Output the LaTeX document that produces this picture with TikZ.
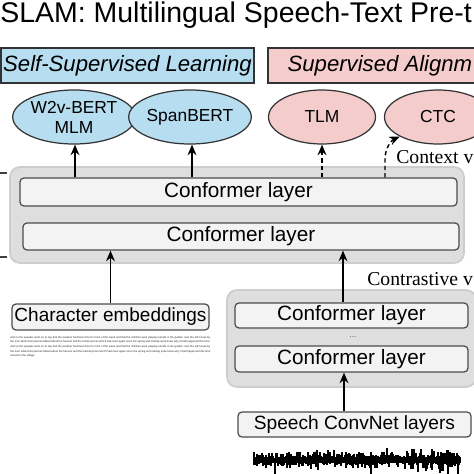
\documentclass[tikz,border=0pt]{standalone}
\usepackage{fontspec}
\setmainfont{Liberation Serif}
\setsansfont{Liberation Sans}
\usepackage{xcolor}
\usetikzlibrary{arrows.meta,positioning,shapes.geometric}

\definecolor{sslblue}{RGB}{182,221,240}
\definecolor{suppink}{RGB}{244,204,204}
\definecolor{trayfill}{RGB}{222,222,222}
\definecolor{trayedge}{RGB}{205,205,205}
\definecolor{layerfill}{RGB}{243,243,243}

\tikzset{
  catbox/.style={draw=black!80, line width=0.7pt, minimum height=35*\u, inner sep=0pt,
    font=\sffamily\itshape\fontsize{12.6}{14}\selectfont},
  headnode/.style={ellipse, draw=black!80, line width=0.7pt, minimum height=54*\u,
    inner sep=0pt, align=center, font=\sffamily\fontsize{9.9}{11.4}\selectfont},
  tray/.style={rounded corners=2mm, fill=trayfill, draw=trayedge, line width=1pt, inner sep=0pt},
  layerbox/.style={rounded corners=0.8mm, fill=layerfill, draw=black!70, line width=0.7pt,
    inner sep=0pt, font=\sffamily\fontsize{11.8}{13}\selectfont},
  arr/.style={-{Stealth[length=6pt,width=5pt]}, line width=0.8pt},
  darr/.style={arr, dash pattern=on 2.4pt off 1.8pt},
  note/.style={font=\fontsize{11.2}{13}\selectfont, inner sep=0pt}
}

\begin{document}
\begin{tikzpicture}[x=0.2mm, y=-0.2mm]
\def\u{0.2mm}        % one pixel of the 474 x 474 frame
\def\ey{117}         % y of the four objective heads
\def\cx{385}         % x where the CTC branch leaves the encoder

\useasboundingbox (0,0) rectangle (474,474);
\clip (0,0) rectangle (474,474);

% ================= title and the two objective groups =================
\node[anchor=base west, inner sep=0pt, font=\sffamily\fontsize{16.2}{18}\selectfont]
  (title) at (0,23) {SLAM: Multilingual Speech-Text Pre-t};

\node[catbox, fill=sslblue, minimum width=253*\u] (ssl) at (127.5,65.5) {Self-Supervised Learning};
\node[catbox, fill=suppink, minimum width=292*\u] (sup) at (414,65.5) {};
\node[catbox, draw=none, anchor=west] (suptxt) at (287,65.5) {Supervised Alignm};

\node[headnode, fill=sslblue, minimum width=115*\u] (w2v)  at (74,\ey)  {W2v-BERT\\MLM};
\node[headnode, fill=sslblue, minimum width=102*\u] (span) at (190,\ey) {SpanBERT};
\node[headnode, fill=suppink, minimum width=107*\u] (tlm)  at (322,\ey) {TLM};
\node[headnode, fill=suppink, minimum width=107*\u] (ctc)  at (438,\ey) {CTC};

% ================= shared encoder =================
\draw[black!75, line width=0.6pt] (0,173) -- (7,173);
\draw[black!75, line width=0.6pt] (0,257) -- (7,257);
\node[tray, minimum width=454*\u, minimum height=96*\u] (enc) at (237,215) {};
\node[layerbox, minimum width=437*\u, minimum height=28*\u] (conf1) at (238.5,192) {Conformer layer};
\node[layerbox, minimum width=436*\u, minimum height=27*\u] (conf2) at (241,236.5) {Conformer layer};

\draw[arr]  (conf1.north -| 75,0)  -- (w2v.south -| 75,0);
\draw[arr]  (conf1.north -| 192,0) -- (span.south -| 192,0);
\draw[darr] (conf1.north -| tlm)   -- (tlm.south);
\coordinate (ctcfoot) at (conf1.north -| \cx,0);
\draw[darr] (ctcfoot) -- ++(0,-18) .. controls +(0,-12) and (392,140) .. (ctc.south west);
\node[note, anchor=base west] (ctxnote) at (396,163) {Context v};

% ================= text branch =================
\node[layerbox, rounded corners=0.8mm, minimum width=197*\u, minimum height=26*\u,
  font=\sffamily\fontsize{10.8}{12}\selectfont] (char) at (110.5,317) {Character embeddings};
\node[anchor=north west, inner sep=0pt, text width=200*\u, align=justify, black!85,
  font=\sffamily\fontsize{1.55}{2.6}\selectfont] (transcript) at (10,336) {%
  and so the speaker went on to say that the weather had been fine for most of the week and that the
  children were playing outside in the garden near the old house by the river while their parents talked
  about the harvest and the market prices which had risen again since the spring and nobody quite knew why
  it had happened this time.\par
  and so the speaker went on to say that the weather had been fine for most of the week and that the
  children were playing outside in the garden near the old house by the river while their parents talked
  about the harvest and the market prices which had risen again since the spring and nobody quite knew why
  it had happened this time around in the village.};
\draw[arr] (char.north) -- (char.north |- conf2.south);

% ================= speech branch =================
\node[tray, minimum width=249*\u, minimum height=97*\u] (spenc) at (351.5,338.5) {};
\node[layerbox, minimum width=233*\u, minimum height=25*\u] (confA) at (351.5,315.5) {Conformer layer};
\node[font=\sffamily\fontsize{5}{5}\selectfont, inner sep=0pt, black!60] (dots) at (353,337) {...};
\node[layerbox, minimum width=233*\u, minimum height=26*\u] (confB) at (351.5,359) {Conformer layer};
\node[layerbox, minimum width=233*\u, minimum height=25*\u,
  font=\sffamily\fontsize{10.9}{12}\selectfont] (conv) at (354.5,424.5) {Speech ConvNet layers};

\draw[arr] ([xshift=-1.7mm]confA.north) -- ([xshift=-1.7mm]confA.north |- conf2.south);
\node[note, anchor=base west] (ctrnote) at (367,285) {Contrastive v};
\draw[arr] ([xshift=-2.1mm]conv.north) -- ([xshift=-2.1mm]conv.north |- confB.south);

% waveform under the ConvNet
\pgfmathsetseed{11}
\draw[line width=1.8pt] (254,460) -- (460,460);
\foreach \i in {254,255,...,460} {
  \pgfmathsetmacro\env{(\i>410 && \i<452) ? 9 : 6}
  \pgfmathsetmacro\a{2.5+\env*rnd^2+ (rnd>0.9 ? 8*rnd : 0)}
  \pgfmathsetmacro\b{2.5+\env*rnd^2+ (rnd>0.9 ? 8*rnd : 0)}
  \draw[line width=0.6pt] (\i,460-\a) -- (\i,460+\b);
}

\end{tikzpicture}
\end{document}
